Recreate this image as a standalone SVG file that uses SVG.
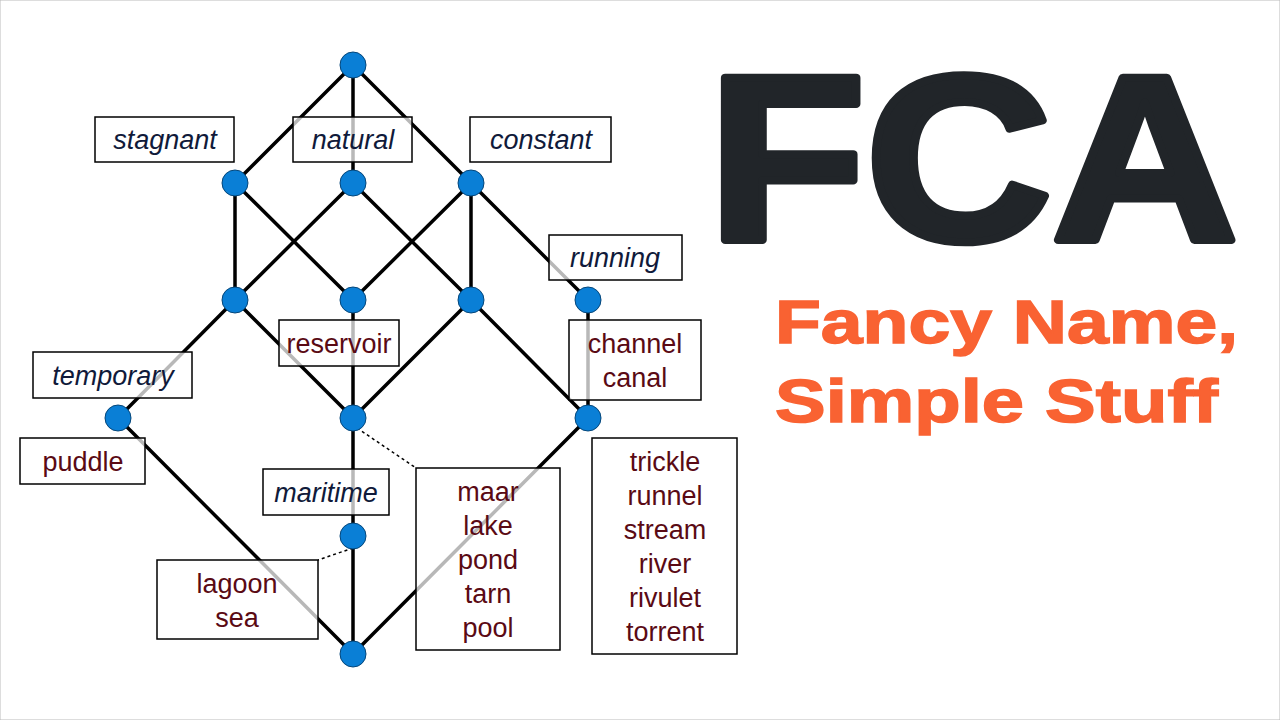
<svg xmlns="http://www.w3.org/2000/svg" width="1280" height="720" viewBox="0 0 1280 720">
<style>
.e{stroke:#000;stroke-width:3.5;fill:none}
.d{stroke:#000;stroke-width:1.5;stroke-dasharray:3,3;fill:none}
.n{fill:#0a7fd6;stroke:#04467a;stroke-width:1}
.b{fill:#fff;fill-opacity:0.72;stroke:#000;stroke-width:1.5}
.a{font-family:"Liberation Sans",Arial,sans-serif;font-size:27px;font-style:italic;fill:#101a3a;text-anchor:middle}
.o{font-family:"Liberation Sans",Arial,sans-serif;font-size:27px;fill:#5a0a14;text-anchor:middle}
</style>
<rect x="0" y="0" width="1280" height="720" fill="#fff" stroke="#bbb"/>
<g id="connectors">
<path class="e" d="M353,65L235,183M353,65L353,183M353,65L471,183M235,183L235,300M235,183L353,300M353,183L235,300M353,183L471,300M471,183L353,300M471,183L471,300M471,183L588,300M235,300L118,418M235,300L353,418M353,300L353,418M471,300L353,418M471,300L588,418M588,300L588,418M118,418L353,654M353,418L353,536L353,654M588,418L353,654"/>
<path class="d" d="M357,428L416,468M353,548L318,560"/>
</g>
<g id="n-top"><circle class="n" cx="353" cy="65" r="13"/></g>
<g id="n-stagnant"><circle class="n" cx="235" cy="183" r="13"/><rect class="b" x="95" y="117" width="139" height="45"/><text class="a" x="165" y="149">stagnant</text></g>
<g id="n-natural"><circle class="n" cx="353" cy="183" r="13"/><rect class="b" x="293" y="117" width="119" height="45"/><text class="a" x="353" y="149">natural</text></g>
<g id="n-constant"><circle class="n" cx="471" cy="183" r="13"/><rect class="b" x="470" y="117" width="141" height="45"/><text class="a" x="541" y="149">constant</text></g>
<g id="n-a"><circle class="n" cx="235" cy="300" r="13"/></g>
<g id="n-reservoir"><circle class="n" cx="353" cy="300" r="13"/><rect class="b" x="279" y="320" width="120" height="46"/><text class="o" x="339" y="353">reservoir</text></g>
<g id="n-b"><circle class="n" cx="471" cy="300" r="13"/></g>
<g id="n-running"><circle class="n" cx="588" cy="300" r="13"/><rect class="b" x="549" y="235" width="133" height="45"/><text class="a" x="615" y="267">running</text><rect class="b" x="569" y="320" width="132" height="80"/><text class="o" x="635" y="353">channel</text><text class="o" x="635" y="387">canal</text></g>
<g id="n-temporary"><circle class="n" cx="118" cy="418" r="13"/><rect class="b" x="33" y="352" width="159" height="46"/><text class="a" x="113" y="385">temporary</text><rect class="b" x="20" y="438" width="125" height="46"/><text class="o" x="83" y="471">puddle</text></g>
<g id="n-c"><circle class="n" cx="353" cy="418" r="13"/><rect class="b" x="416" y="468" width="144" height="182"/><text class="o" x="488" y="501">maar</text><text class="o" x="488" y="535">lake</text><text class="o" x="488" y="569">pond</text><text class="o" x="488" y="603">tarn</text><text class="o" x="488" y="637">pool</text></g>
<g id="n-d"><circle class="n" cx="588" cy="418" r="13"/><rect class="b" x="592" y="438" width="145" height="216"/><text class="o" x="665" y="471">trickle</text><text class="o" x="665" y="505">runnel</text><text class="o" x="665" y="539">stream</text><text class="o" x="665" y="573">river</text><text class="o" x="665" y="607">rivulet</text><text class="o" x="665" y="641">torrent</text></g>
<g id="n-maritime"><circle class="n" cx="353" cy="536" r="13"/><rect class="b" x="263" y="469" width="126" height="46"/><text class="a" x="326" y="502">maritime</text><rect class="b" x="157" y="560" width="161" height="79"/><text class="o" x="237" y="593">lagoon</text><text class="o" x="237" y="627">sea</text></g>
<g id="n-bottom"><circle class="n" cx="353" cy="654" r="13"/></g>
<g id="title">
<text x="708" y="240" font-family="Liberation Sans,Arial,sans-serif" font-weight="bold" font-size="236" fill="#212529" stroke="#212529" stroke-width="8" stroke-linejoin="round" textLength="530" lengthAdjust="spacingAndGlyphs">FCA</text>
<text x="775" y="343" font-family="Liberation Sans,Arial,sans-serif" font-weight="bold" font-size="62" fill="#f96232" stroke="#f96232" stroke-width="1.5" textLength="463" lengthAdjust="spacingAndGlyphs">Fancy Name,</text>
<text x="775" y="422" font-family="Liberation Sans,Arial,sans-serif" font-weight="bold" font-size="62" fill="#f96232" stroke="#f96232" stroke-width="1.5" textLength="443" lengthAdjust="spacingAndGlyphs">Simple Stuff</text>
</g>
</svg>
